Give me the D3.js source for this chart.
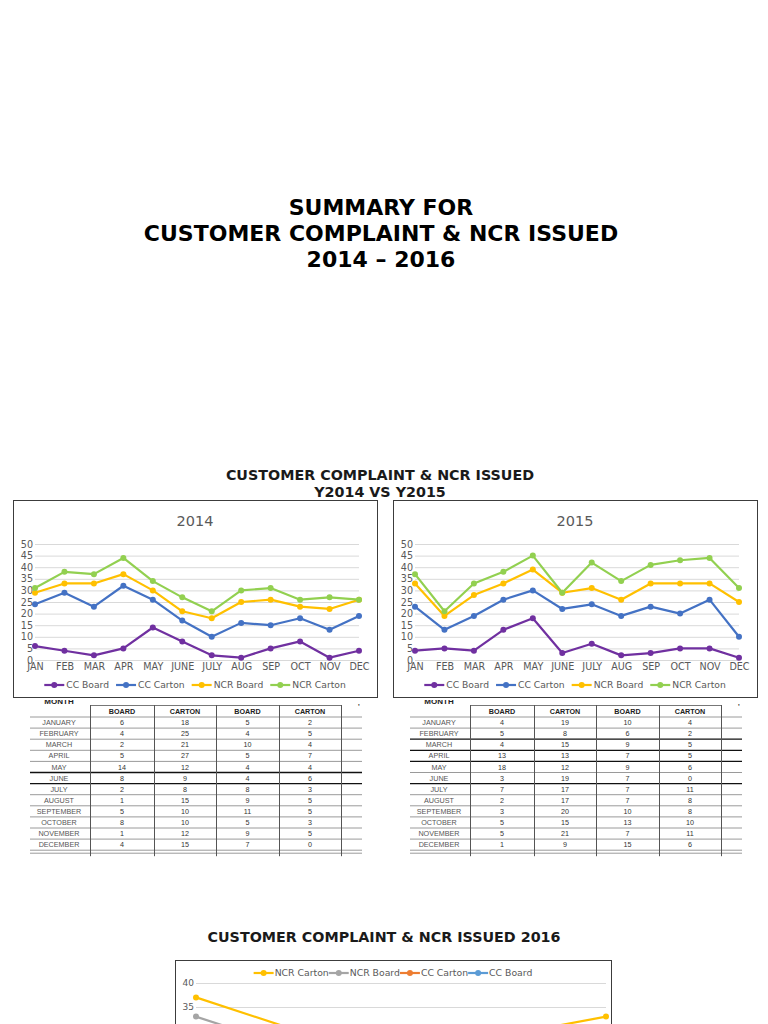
<!DOCTYPE html>
<html>
<head>
<meta charset="utf-8">
<script src="https://cdn.jsdelivr.net/npm/d3@7"></script>
<style>
  body { margin: 0; background: #fff; }
  svg { display: block; }
  .main-title { font-family: "DejaVu Sans"; font-weight: bold; font-size: 22px; fill: #000; }
  .sub-title { font-family: "DejaVu Sans"; font-weight: bold; font-size: 14.3px; fill: #1a1a1a; }
  .chart-title { font-family: "DejaVu Sans"; font-size: 14.5px; fill: #595959; }
  .axis text { font-family: "DejaVu Sans"; fill: #595959; }
  .legend text { font-family: "DejaVu Sans"; fill: #595959; }
  .tbl text { font-family: "Liberation Sans"; font-size: 7.2px; }
</style>
</head>
<body>
<svg id="page" width="768" height="1024"></svg>
<script>
// ---- data ----
const months = ["JAN", "FEB", "MAR", "APR", "MAY", "JUNE", "JULY", "AUG", "SEP", "OCT", "NOV", "DEC"];
const monthNames = ["JANUARY", "FEBRUARY", "MARCH", "APRIL", "MAY", "JUNE", "JULY", "AUGUST", "SEPTEMBER", "OCTOBER", "NOVEMBER", "DECEMBER"];
const seriesNames = ["CC Board", "CC Carton", "NCR Board", "NCR Carton"];
const tableHeads = ["BOARD", "CARTON", "BOARD", "CARTON"];

const ccBoard2014   = [6, 4, 2, 5, 14, 8, 2, 1, 5, 8, 1, 4];
const ccCarton2014  = [18, 25, 21, 27, 12, 9, 8, 15, 10, 10, 12, 15];
const ncrBoard2014  = [5, 4, 10, 5, 4, 4, 8, 9, 11, 5, 9, 7];
const ncrCarton2014 = [2, 5, 4, 7, 4, 6, 3, 5, 5, 3, 5, 0];

const ccBoard2015   = [4, 5, 4, 13, 18, 3, 7, 2, 3, 5, 5, 1];
const ccCarton2015  = [19, 8, 15, 13, 12, 19, 17, 17, 20, 15, 21, 9];
const ncrBoard2015  = [10, 6, 9, 7, 9, 7, 7, 7, 10, 13, 7, 15];
const ncrCarton2015 = [4, 2, 5, 5, 6, 0, 11, 8, 8, 10, 11, 6];

// 2016 chart is cut off at the bottom of the page; hidden points are estimates
const months2016 = ["JAN", "FEB", "MAR", "APR", "MAY"];
const ccBoard2016   = [5, 3, 4, 6, 4];
const ccCarton2016  = [18, 14, 15, 12, 16];
const ncrBoard2016  = [10, 9, 8, 8, 9];
const ncrCarton2016 = [4, 4, 2, 3, 4];

const ticks50 = d3.range(0, 55, 5);
const ticks40 = d3.range(0, 45, 5);

const pageH = 1024;
const svg = d3.select("#page");

// ---- titles ----
svg.selectAll(".main-title")
  .data(["SUMMARY FOR", "CUSTOMER COMPLAINT & NCR ISSUED", "2014 \u2013 2016"])
  .enter().append("text")
  .attr("class", "main-title")
  .attr("x", 381)
  .attr("y", (d, i) => 215 + i * 26)
  .attr("text-anchor", "middle")
  .text(d => d);

svg.selectAll(".sub-title")
  .data([["CUSTOMER COMPLAINT & NCR ISSUED", 380, 480], ["Y2014 VS Y2015", 380, 497], ["CUSTOMER COMPLAINT & NCR ISSUED 2016", 384, 942]])
  .enter().append("text")
  .attr("class", "sub-title")
  .attr("x", d => d[1])
  .attr("y", d => d[2])
  .attr("text-anchor", "middle")
  .text(d => d[0]);

// ---- line chart (stacked values, lines only) ----
function lineChart(cfg) {
  const g = svg.append("g");

  g.append("rect")
    .attr("x", cfg.box.x + 0.5).attr("y", cfg.box.y + 0.5)
    .attr("width", cfg.box.w).attr("height", cfg.box.h)
    .attr("fill", "#fff").attr("stroke", "#3c3c3c");

  if (cfg.title) {
    g.append("text").attr("class", "chart-title")
      .attr("x", cfg.box.x + cfg.box.w / 2).attr("y", cfg.box.y + 26)
      .attr("text-anchor", "middle").text(cfg.title);
  }

  const x = d3.scalePoint().domain(cfg.categories).range([cfg.plot.x0, cfg.plot.x1]);
  const y = d3.scaleLinear().domain(cfg.yDomain).range([cfg.plot.y0, cfg.plot.y1]);

  const yAxis = d3.axisLeft(y)
    .tickValues(cfg.yTicks)
    .tickSizeInner(-(cfg.plot.x1 - cfg.plot.x0))
    .tickSizeOuter(0)
    .tickPadding(2);

  g.append("g")
    .attr("class", "axis")
    .attr("transform", `translate(${cfg.plot.x0},0)`)
    .call(yAxis)
    .call(a => a.select(".domain").remove())
    .call(a => a.selectAll("line").attr("stroke", "#d9d9d9"))
    .call(a => a.selectAll("text").style("font-size", cfg.axisFont + "px"))
    // labels that fall below the page are never seen
    .call(a => a.selectAll(".tick text").filter(d => y(d) > pageH + 4).remove());

  if (cfg.xAxis) {
    g.append("g")
      .attr("class", "axis")
      .attr("transform", `translate(0,${cfg.plot.y0})`)
      .call(d3.axisBottom(x).tickSize(0).tickPadding(3))
      .call(a => a.select(".domain").remove())
      .call(a => a.selectAll("text").style("font-size", cfg.axisFont + "px"));
  }

  const rows = cfg.categories.map((m, i) => cfg.series.map(s => s[i]));
  const stacked = d3.stack().keys(d3.range(cfg.series.length))(rows);

  const line = d3.line()
    .x((d, i) => x(cfg.categories[i]))
    .y(d => y(d[1]));

  const sg = g.selectAll(".series")
    .data(stacked)
    .enter().append("g")
    .attr("class", "series");

  sg.append("path")
    .attr("d", d => line(d))
    .attr("fill", "none")
    .attr("stroke", d => cfg.colors[d.key])
    .attr("stroke-width", 2.2)
    .attr("stroke-linejoin", "round");

  sg.each(function(s) {
    d3.select(this).selectAll("circle")
      .data(s)
      .enter().append("circle")
      .attr("cx", (d, i) => x(cfg.categories[i]))
      .attr("cy", d => y(d[1]))
      .attr("r", 3)
      .attr("fill", cfg.colors[s.key]);
  });

  // legend
  const lg = g.append("g").attr("class", "legend");
  const items = lg.selectAll("g")
    .data(cfg.legendOrder)
    .enter().append("g");
  items.append("line")
    .attr("x1", 0).attr("x2", 20)
    .attr("stroke", k => cfg.colors[k]).attr("stroke-width", 2.2);
  items.append("circle")
    .attr("cx", 10).attr("r", 3)
    .attr("fill", k => cfg.colors[k]);
  items.append("text")
    .attr("x", cfg.legendTextX).attr("dy", "0.35em")
    .style("font-size", cfg.legendFont + "px")
    .text(k => cfg.names[k]);

  let offset = 0;
  items.each(function() {
    const w = cfg.legendTextX + d3.select(this).select("text").node().getComputedTextLength();
    d3.select(this).attr("transform", `translate(${offset},0)`);
    offset += w + cfg.legendGap;
  });
  offset -= cfg.legendGap;
  lg.attr("transform", `translate(${cfg.box.x + cfg.box.w / 2 - offset / 2},${cfg.legendY})`);
}

const colorsTop = ["#7030a0", "#4472c4", "#ffc000", "#92d050"];
const colors2016 = ["#5b9bd5", "#ed7d31", "#a5a5a5", "#ffc000"];

lineChart({
  title: "2014",
  box: { x: 13, y: 500, w: 364, h: 197 },
  plot: { x0: 35, x1: 359, y0: 660, y1: 544 },
  categories: months,
  series: [ccBoard2014, ccCarton2014, ncrBoard2014, ncrCarton2014],
  names: seriesNames,
  colors: colorsTop,
  yDomain: [0, 50], yTicks: ticks50,
  xAxis: true, axisFont: 9.6,
  legendOrder: [0, 1, 2, 3], legendY: 685, legendFont: 9.2, legendGap: 7, legendTextX: 22
});

lineChart({
  title: "2015",
  box: { x: 393, y: 500, w: 364, h: 197 },
  plot: { x0: 415, x1: 739, y0: 660, y1: 544 },
  categories: months,
  series: [ccBoard2015, ccCarton2015, ncrBoard2015, ncrCarton2015],
  names: seriesNames,
  colors: colorsTop,
  yDomain: [0, 50], yTicks: ticks50,
  xAxis: true, axisFont: 9.6,
  legendOrder: [0, 1, 2, 3], legendY: 685, legendFont: 9.2, legendGap: 7, legendTextX: 22
});

lineChart({
  title: null,
  box: { x: 175, y: 960, w: 436, h: 270 },
  plot: { x0: 196, x1: 606, y0: 1175, y1: 983 },
  categories: months2016,
  series: [ccBoard2016, ccCarton2016, ncrBoard2016, ncrCarton2016],
  names: seriesNames,
  colors: colors2016,
  yDomain: [0, 40], yTicks: ticks40,
  xAxis: false, axisFont: 9,
  legendOrder: [3, 2, 1, 0], legendY: 973, legendFont: 9.3, legendGap: 0, legendTextX: 21
});

// ---- data tables ----
function dataTable(cfg) {
  const g = svg.append("g").attr("class", "tbl");
  const cols = cfg.cols;            // column edges
  const top = 705, headBottom = 717, rowH = 11.1;
  const rowsBottom = headBottom + 12 * rowH;

  const clipId = "clip" + cfg.id;
  g.append("clipPath").attr("id", clipId)
    .append("rect").attr("x", cols[0]).attr("y", 700).attr("width", 80).attr("height", 10);
  g.append("text")
    .attr("clip-path", `url(#${clipId})`)
    .attr("x", (cols[0] + cols[1]) / 2).attr("y", 704)
    .attr("text-anchor", "middle")
    .style("font-weight", "bold").style("font-size", "8px").attr("fill", "#222")
    .text("MONTH");

  g.append("text")
    .attr("x", cols[6] - 4).attr("y", 709)
    .style("font-weight", "bold").attr("fill", "#333").text("'");

  g.append("line")
    .attr("x1", cols[1]).attr("x2", cols[5])
    .attr("y1", top + 0.5).attr("y2", top + 0.5)
    .attr("stroke", "#777");

  g.selectAll(".head")
    .data(tableHeads)
    .enter().append("text")
    .attr("x", (d, i) => (cols[i + 1] + cols[i + 2]) / 2)
    .attr("y", 714)
    .attr("text-anchor", "middle")
    .style("font-weight", "bold")
    .attr("fill", "#222")
    .text(d => d);

  // horizontal rules: header bottom + each row bottom
  const rules = d3.range(13).map(i => headBottom + i * rowH);
  g.selectAll(".rule")
    .data(rules)
    .enter().append("line")
    .attr("x1", cols[0] + 2).attr("x2", cols[6])
    .attr("y1", d => d).attr("y2", d => d)
    .attr("stroke", (d, i) => cfg.darkRules.includes(i - 1) ? "#111" : "#9a9a9a")
    .attr("stroke-width", (d, i) => cfg.darkRules.includes(i - 1) ? 1.3 : 1);

  g.append("line")
    .attr("x1", cols[0] + 2).attr("x2", cols[6])
    .attr("y1", rowsBottom + 3).attr("y2", rowsBottom + 3)
    .attr("stroke", "#9a9a9a");

  g.selectAll(".vrule")
    .data(cols.slice(1, 6))
    .enter().append("line")
    .attr("x1", d => d + 0.5).attr("x2", d => d + 0.5)
    .attr("y1", top).attr("y2", rowsBottom + 6)
    .attr("stroke", "#555");

  const rowG = g.selectAll(".row")
    .data(monthNames)
    .enter().append("g")
    .attr("transform", (d, i) => `translate(0,${headBottom + i * rowH + rowH / 2 + 2.6})`);

  rowG.append("text")
    .attr("x", (cols[0] + cols[1]) / 2)
    .attr("text-anchor", "middle")
    .attr("fill", "#555")
    .text(d => d);

  cfg.series.forEach((s, k) => {
    rowG.append("text")
      .attr("x", (cols[k + 1] + cols[k + 2]) / 2)
      .attr("text-anchor", "middle")
      .attr("fill", "#333")
      .text((d, i) => s[i]);
  });
}

dataTable({
  id: "t14",
  cols: [28, 90, 154, 216, 279, 341, 362],
  series: [ccBoard2014, ccCarton2014, ncrBoard2014, ncrCarton2014],
  darkRules: [4, 5]
});

dataTable({
  id: "t15",
  cols: [408, 470, 534, 596, 659, 721, 742],
  series: [ccBoard2015, ccCarton2015, ncrBoard2015, ncrCarton2015],
  darkRules: [1, 2, 3, 5]
});
</script>
</body>
</html>
